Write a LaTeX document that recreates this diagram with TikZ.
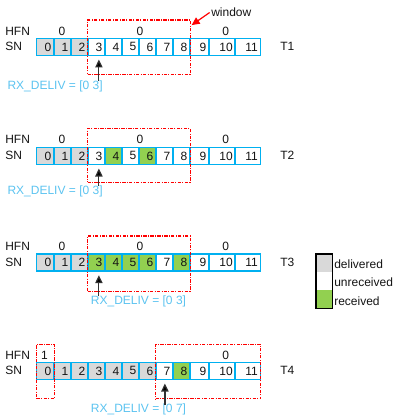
\documentclass[tikz,border=0pt]{standalone}
\usepackage{fontspec}
\setmainfont{Liberation Sans}
\usetikzlibrary{arrows.meta,fit}
\definecolor{cellblue}{HTML}{00B0F0}
\definecolor{delgray}{HTML}{D9D9D9}
\definecolor{recgreen}{HTML}{92D050}
\definecolor{rxblue}{HTML}{5BC3F0}
\definecolor{txt}{RGB}{20,20,20}
\definecolor{ptrgray}{RGB}{50,50,50}
\newcommand\snrow[2]{%
  \foreach \i/\xa/\xb in {0/36.7/53.5,1/53.5/70.5,2/70.5/87.5,3/87.5/104.5,4/104.5/121.5,5/121.5/138.5,6/138.5/155.5,7/155.5/172.5,8/172.5/189.5,9/189.5/208.5,10/208.5/235,11/235/260}{%
    \node[cellnode, minimum width={(\xb-\xa)*0.75pt}, anchor=north west] (#1-\i) at (\xa,#2) {};
  }}
\newcommand\fillcells[3]{\foreach \i in {#3}{\fill[#2] (#1-\i.north west) rectangle (#1-\i.south east);}}
\newcommand\rowborders[1]{\foreach \i in {0,...,11}{%
    \draw[cellline] (#1-\i.north west) rectangle (#1-\i.south east);
    \node[digit] (#1-\i-t) at ([xshift=-1.9pt]#1-\i.east) {\i};}}
\begin{document}
\begin{tikzpicture}[x=0.75pt,y=-0.75pt,
  font=\fontsize{9pt}{10pt}\selectfont, text=txt,
  cellnode/.style={inner sep=0pt, minimum height=12.5pt},
  cellline/.style={draw=cellblue, line width=1.1pt},
  digit/.style={anchor=east, inner sep=0pt},
  lbl/.style={anchor=west, inner sep=0pt},
  hfnval/.style={inner sep=0pt},
  win/.style={draw=red, line width=0.8pt, dash pattern=on 2.5pt off 1pt on 0.7pt off 1pt, inner sep=0pt},
  rx/.style={anchor=west, inner sep=0pt, text=rxblue},
  ptr/.style={draw=ptrgray, line width=0.9pt, -{Triangle[length=6pt,width=5.5pt,fill=black]}},
  legbox/.style={draw=black, line width=1pt}]
\useasboundingbox (0,0) rectangle (400,420);

% ---------- T1 ----------
\snrow{A}{38.3}
\fillcells{A}{delgray}{0,1,2}
\rowborders{A}
\node[lbl] (A-hfn) at (5,31) {HFN};
\node[lbl] (A-sn) at (5,46.7) {SN};
\node[hfnval] (A-h1) at (62,31) {0};
\node[hfnval] (A-h2) at (140,31) {0};
\node[hfnval] (A-h3) at (225.7,31) {0};
\node[lbl] (A-T) at (280,46.7) {T1};
\node[win, fit={([yshift=13.7pt]A-3.north west) ([yshift=-14.2pt]A-8.south east)}] (A-win) {};
\node[rx] (A-rx) at (7.3,86.7) {RX\_DELIV = [0 3]};
\draw[ptr] (A-rx.north -| A-3-t) -- ([yshift=-3pt]A-3-t |- A-3.south);
\node[lbl, text=txt] (wlabel) at (211,12.5) {window};
\draw[red, line width=0.9pt, -{Triangle[length=6pt,width=5.5pt]}] ([xshift=-1pt]wlabel.west) -- ([xshift=0.8pt,yshift=-4.2pt]A-win.north east);

% ---------- T2 ----------
\snrow{B}{147.3}
\fillcells{B}{delgray}{0,1,2}
\fillcells{B}{recgreen}{4,6}
\rowborders{B}
\node[lbl] (B-hfn) at (5,139.5) {HFN};
\node[lbl] (B-sn) at (5,155.7) {SN};
\node[hfnval] (B-h1) at (62,139.5) {0};
\node[hfnval] (B-h2) at (140,139.5) {0};
\node[hfnval] (B-h3) at (225.7,139.5) {0};
\node[lbl] (B-T) at (280,155.7) {T2};
\node[win, fit={([yshift=14.2pt]B-3.north west) ([yshift=-13.3pt]B-8.south east)}] (B-win) {};
\node[rx] (B-rx) at (7.3,191.7) {RX\_DELIV = [0 3]};
\draw[ptr] (B-rx.north -| B-3-t) -- ([yshift=-3pt]B-3-t |- B-3.south);

% ---------- T3 ----------
\snrow{C}{254}
\fillcells{C}{delgray}{0,1,2}
\fillcells{C}{recgreen}{3,4,5,6,8}
\rowborders{C}
\node[lbl] (C-hfn) at (5,246.7) {HFN};
\node[lbl] (C-sn) at (5,262.3) {SN};
\node[hfnval] (C-h1) at (62,246.7) {0};
\node[hfnval] (C-h2) at (140,246.7) {0};
\node[hfnval] (C-h3) at (225.7,246.7) {0};
\node[lbl] (C-T) at (280,262.3) {T3};
\node[win, fit={([yshift=13.5pt]C-3.north west) ([yshift=-15pt]C-8.south east)}] (C-win) {};
\node[rx] (C-rx) at (90.7,301) {RX\_DELIV = [0 3]};
\draw[ptr] ([yshift=-1pt]C-rx.north -| C-3-t) -- ([yshift=-3pt]C-3-t |- C-3.south);

% legend
\fill[delgray] (316,254) rectangle (332.5,272);
\fill[white] (316,272) rectangle (332.5,290);
\fill[recgreen] (316,290) rectangle (332.5,308.3);
\node[legbox, inner sep=0pt, fit={(316,254) (332.5,308.3)}] (leg) {};
\node[lbl] (leg-d) at (334,264) {delivered};
\node[lbl] (leg-u) at (334,282.5) {unreceived};
\node[lbl] (leg-r) at (334,301) {received};

% ---------- T4 ----------
\snrow{D}{362.3}
\fillcells{D}{delgray}{0,1,2,3,4,5,6}
\fillcells{D}{recgreen}{8}
\rowborders{D}
\node[lbl] (D-hfn) at (5,355) {HFN};
\node[lbl] (D-sn) at (5,370.7) {SN};
\node[hfnval] (D-h1) at (44.5,355) {1};
\node[hfnval] (D-h3) at (225.7,355) {0};
\node[lbl] (D-T) at (280,370.7) {T4};
\node[win, fit={([yshift=13.5pt]D-0.north west) ([yshift=-14.5pt]D-0.south east)}] (D-win0) {};
\node[win, fit={([yshift=13.5pt]D-7.north west) ([yshift=-14.5pt]D-11.south east)}] (D-win) {};
\node[rx] (D-rx) at (90.7,409.3) {RX\_DELIV = [0 7]};
\draw[ptr] ([xshift=-1.5pt,yshift=-1pt]D-rx.north -| D-7-t) -- ([xshift=-1.5pt,yshift=-3pt]D-7-t |- D-7.south);
\end{tikzpicture}
\end{document}
